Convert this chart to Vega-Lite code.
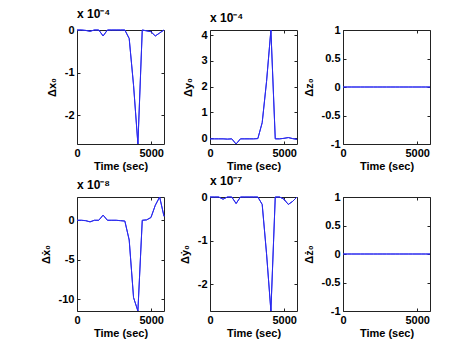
{
  "$schema": "https://vega.github.io/schema/vega-lite/v6.json",
  "padding": {"left": 39, "top": 7, "right": 5, "bottom": 5},
  "background": "white",
  "data": {"values": [
    {"t": 0, "x": 0, "y": -0.03, "z": 0, "xd": 0, "yd": 0, "zd": 0},
    {"t": 293, "x": 0, "y": -0.03, "z": 0, "xd": 0, "yd": 0, "zd": 0},
    {"t": 586, "x": -0.01, "y": -0.03, "z": 0, "xd": -0.05, "yd": 0, "zd": 0},
    {"t": 879, "x": -0.03, "y": -0.03, "z": 0, "xd": -0.2, "yd": -0.05, "zd": 0},
    {"t": 1172, "x": 0, "y": -0.04, "z": 0, "xd": 0, "yd": 0, "zd": 0},
    {"t": 1465, "x": 0, "y": -0.03, "z": 0, "xd": 0, "yd": 0, "zd": 0},
    {"t": 1758, "x": -0.14, "y": -0.23, "z": 0, "xd": 0.65, "yd": -0.15, "zd": 0},
    {"t": 2051, "x": 0, "y": -0.03, "z": 0, "xd": 0, "yd": 0, "zd": 0},
    {"t": 2344, "x": 0, "y": -0.03, "z": 0, "xd": 0, "yd": 0, "zd": 0},
    {"t": 2637, "x": 0, "y": -0.03, "z": 0, "xd": 0, "yd": 0, "zd": 0},
    {"t": 2930, "x": 0, "y": -0.03, "z": 0, "xd": -0.05, "yd": 0, "zd": 0},
    {"t": 3223, "x": 0, "y": -0.02, "z": 0, "xd": -0.1, "yd": 0, "zd": 0},
    {"t": 3516, "x": -0.2, "y": 0.6, "z": 0, "xd": -2.5, "yd": -0.17, "zd": 0},
    {"t": 3809, "x": -1.3, "y": 2.2, "z": 0, "xd": -9.8, "yd": -1.3, "zd": 0},
    {"t": 4102, "x": -2.68, "y": 4.2, "z": 0, "xd": -11.5, "yd": -2.61, "zd": 0},
    {"t": 4395, "x": 0, "y": -0.03, "z": 0, "xd": 0, "yd": 0, "zd": 0},
    {"t": 4688, "x": -0.02, "y": -0.03, "z": 0, "xd": 0.05, "yd": 0, "zd": 0},
    {"t": 4981, "x": -0.04, "y": -0.01, "z": 0, "xd": 0.35, "yd": -0.05, "zd": 0},
    {"t": 5274, "x": -0.14, "y": 0.02, "z": 0, "xd": 1.9, "yd": -0.17, "zd": 0},
    {"t": 5567, "x": -0.07, "y": -0.02, "z": 0, "xd": 2.95, "yd": -0.1, "zd": 0},
    {"t": 5860, "x": 0, "y": -0.05, "z": 0, "xd": 0.5, "yd": 0, "zd": 0}
  ]},
  "config": {
    "font": "Liberation Sans",
    "view": {"stroke": "#222222", "strokeWidth": 1},
    "axis": {
      "grid": false, "domain": false, "tickSize": -3, "tickColor": "#222222",
      "labelFont": "Liberation Sans", "labelFontSize": 11, "labelFontWeight": "bold", "labelColor": "#000000",
      "titleFont": "Liberation Sans", "titleFontSize": 11, "titleFontWeight": "bold", "titleColor": "#000000",
      "labelFlush": false, "labelPadding": 6,
      "labelExpr": "replace(format(datum.value, '~g'), '−', '-')"
    },
    "axisY": {"titlePadding": 7},
    "axisX": {"titlePadding": 2},
    "title": {"anchor": "start", "fontSize": 12, "fontWeight": "bold", "color": "#000000", "offset": 3, "frame": "group", "font": "Liberation Sans"},
    "line": {"color": "#2a2aee", "strokeWidth": 1, "clip": true}
  },
  "columns": 3,
  "spacing": {"row": 53, "column": 46},
  "bounds": "flush",
  "concat": [
    {
      "width": 87, "height": 114, "title": "x 10⁻⁴",
      "resolve": {"axis": {"x": "independent", "y": "independent"}},
      "layer": [
        {"mark": {"type": "line"},
         "encoding": {
          "x": {"field": "t", "type": "quantitative", "scale": {"domain": [0, 5860], "nice": false, "zero": false}, "axis": {"values": [0, 5000], "title": "Time (sec)"}},
          "y": {"field": "x", "type": "quantitative", "scale": {"domain": [-2.68, 0], "nice": false, "zero": false}, "axis": {"values": [0, -1, -2], "title": "Δx₀"}}}},
        {"mark": {"type": "line"},
         "encoding": {
          "x": {"field": "t", "type": "quantitative", "axis": {"values": [0, 5000], "orient": "top", "labels": false, "title": null}},
          "y": {"field": "x", "type": "quantitative", "axis": {"values": [0, -1, -2], "orient": "right", "labels": false, "title": null}}}}
      ]
    },
    {
      "width": 87, "height": 114, "title": "x 10⁻⁴",
      "resolve": {"axis": {"x": "independent", "y": "independent"}},
      "layer": [
        {"mark": {"type": "line"},
         "encoding": {
          "x": {"field": "t", "type": "quantitative", "scale": {"domain": [0, 5860], "nice": false, "zero": false}, "axis": {"values": [0, 5000], "title": "Time (sec)"}},
          "y": {"field": "y", "type": "quantitative", "scale": {"domain": [-0.23, 4.2], "nice": false, "zero": false}, "axis": {"values": [0, 1, 2, 3, 4], "title": "Δy₀"}}}},
        {"mark": {"type": "line"},
         "encoding": {
          "x": {"field": "t", "type": "quantitative", "axis": {"values": [0, 5000], "orient": "top", "labels": false, "title": null}},
          "y": {"field": "y", "type": "quantitative", "axis": {"values": [0, 1, 2, 3, 4], "orient": "right", "labels": false, "title": null}}}}
      ]
    },
    {
      "width": 87, "height": 114,
      "resolve": {"axis": {"x": "independent", "y": "independent"}},
      "layer": [
        {"mark": {"type": "line"},
         "encoding": {
          "x": {"field": "t", "type": "quantitative", "scale": {"domain": [0, 5860], "nice": false, "zero": false}, "axis": {"values": [0, 5000], "title": "Time (sec)"}},
          "y": {"field": "z", "type": "quantitative", "scale": {"domain": [-1, 1], "nice": false, "zero": false}, "axis": {"values": [-1, -0.5, 0, 0.5, 1], "title": "Δz₀"}}}},
        {"mark": {"type": "line"},
         "encoding": {
          "x": {"field": "t", "type": "quantitative", "axis": {"values": [0, 5000], "orient": "top", "labels": false, "title": null}},
          "y": {"field": "z", "type": "quantitative", "axis": {"values": [-1, -0.5, 0, 0.5, 1], "orient": "right", "labels": false, "title": null}}}}
      ]
    },
    {
      "width": 87, "height": 114, "title": "x 10⁻⁸",
      "resolve": {"axis": {"x": "independent", "y": "independent"}},
      "layer": [
        {"mark": {"type": "line"},
         "encoding": {
          "x": {"field": "t", "type": "quantitative", "scale": {"domain": [0, 5860], "nice": false, "zero": false}, "axis": {"values": [0, 5000], "title": "Time (sec)"}},
          "y": {"field": "xd", "type": "quantitative", "scale": {"domain": [-11.5, 2.95], "nice": false, "zero": false}, "axis": {"values": [0, -5, -10], "title": "Δẋ₀"}}}},
        {"mark": {"type": "line"},
         "encoding": {
          "x": {"field": "t", "type": "quantitative", "axis": {"values": [0, 5000], "orient": "top", "labels": false, "title": null}},
          "y": {"field": "xd", "type": "quantitative", "axis": {"values": [0, -5, -10], "orient": "right", "labels": false, "title": null}}}}
      ]
    },
    {
      "width": 87, "height": 114, "title": "x 10⁻⁷",
      "resolve": {"axis": {"x": "independent", "y": "independent"}},
      "layer": [
        {"mark": {"type": "line"},
         "encoding": {
          "x": {"field": "t", "type": "quantitative", "scale": {"domain": [0, 5860], "nice": false, "zero": false}, "axis": {"values": [0, 5000], "title": "Time (sec)"}},
          "y": {"field": "yd", "type": "quantitative", "scale": {"domain": [-2.61, 0], "nice": false, "zero": false}, "axis": {"values": [0, -1, -2], "title": "Δẏ₀"}}}},
        {"mark": {"type": "line"},
         "encoding": {
          "x": {"field": "t", "type": "quantitative", "axis": {"values": [0, 5000], "orient": "top", "labels": false, "title": null}},
          "y": {"field": "yd", "type": "quantitative", "axis": {"values": [0, -1, -2], "orient": "right", "labels": false, "title": null}}}}
      ]
    },
    {
      "width": 87, "height": 114,
      "resolve": {"axis": {"x": "independent", "y": "independent"}},
      "layer": [
        {"mark": {"type": "line"},
         "encoding": {
          "x": {"field": "t", "type": "quantitative", "scale": {"domain": [0, 5860], "nice": false, "zero": false}, "axis": {"values": [0, 5000], "title": "Time (sec)"}},
          "y": {"field": "zd", "type": "quantitative", "scale": {"domain": [-1, 1], "nice": false, "zero": false}, "axis": {"values": [-1, -0.5, 0, 0.5, 1], "title": "Δż₀"}}}},
        {"mark": {"type": "line"},
         "encoding": {
          "x": {"field": "t", "type": "quantitative", "axis": {"values": [0, 5000], "orient": "top", "labels": false, "title": null}},
          "y": {"field": "zd", "type": "quantitative", "axis": {"values": [-1, -0.5, 0, 0.5, 1], "orient": "right", "labels": false, "title": null}}}}
      ]
    }
  ]
}
